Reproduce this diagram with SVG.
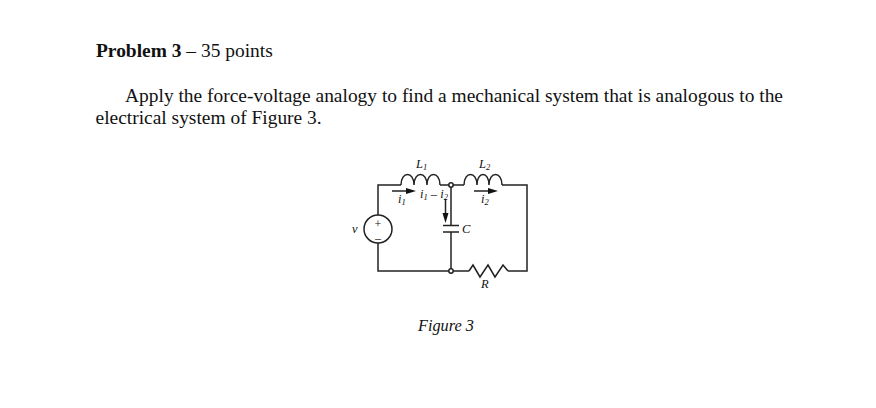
<svg xmlns="http://www.w3.org/2000/svg" width="876" height="408" viewBox="0 0 876 408">
<style>
text{font-family:"Liberation Serif","Times New Roman",serif;fill:#111}
.b{font-size:19.45px}
.l{font-size:12.500px;font-style:italic}
.s{font-size:8.500px}
.w{fill:none;stroke:#222;stroke-width:1.5}
.a{fill:#111}
</style>
<rect width="876" height="408" fill="#fff"/>
<text id="title" class="b" x="96" y="57"><tspan font-weight="bold">Problem 3</tspan> – 35 points</text>
<text id="line1" class="b" x="125" y="102">Apply the force-voltage analogy to find a mechanical system that is analogous to the</text>
<text id="line2" class="b" x="95.500" y="124">electrical system of Figure 3.</text>
<g id="connectors">
<path class="w" d="M378 215V185H401M440 185H449M453 185H464M502 185H527V271H508M469 271H453M449 271H378V243M451 187V225M451 232V269"/>
</g>
<g id="L1"><path class="w" d="M401 185c0-14 13-14 13 0c0-14 13-14 13 0c0-14 13-14 13 0"/><text class="l" x="416" y="168">L<tspan class="s" dy="2">1</tspan></text></g>
<g id="L2"><path class="w" d="M464 185c0-14 13-14 13 0c0-14 12-14 12 0c0-14 13-14 13 0"/><text class="l" x="479" y="168">L<tspan class="s" dy="2">2</tspan></text></g>
<g id="source"><circle class="w" cx="378" cy="229" r="14" fill="#fff"/><text x="378" y="228" font-size="12" text-anchor="middle">+</text><text x="378" y="241.500" font-size="12" text-anchor="middle">–</text><text class="l" x="352" y="233">v</text></g>
<g id="C"><path class="w" d="M443 225.500H459M443 232H459"/><text class="l" x="462" y="233">C</text></g>
<g id="R"><path class="w" d="M469 271l4-6 7 12 8-12 7 12 8-12 5 6"/><text class="l" x="481" y="288">R</text></g>
<g id="node1"><circle class="w" cx="451" cy="185" r="2.200" fill="#fff"/></g>
<g id="node2"><circle class="w" cx="451" cy="271" r="2.200" fill="#fff"/></g>
<g id="i1"><path class="w" d="M392 191H408"/><path class="a" d="M416 191l-10-3v6z"/><text class="l" x="398" y="203">i<tspan class="s" dy="2">1</tspan></text></g>
<g id="i2"><path class="w" d="M474 191H490"/><path class="a" d="M498 191l-10-3v6z"/><text class="l" x="481" y="203">i<tspan class="s" dy="2">2</tspan></text></g>
<g id="i12"><path class="w" d="M445.500 199V214"/><path class="a" d="M445.500 223l-3-10h6z"/><text class="l" x="420" y="198">i<tspan class="s" dy="2">1</tspan><tspan dy="-2"> – i</tspan><tspan class="s" dy="2">2</tspan></text></g>
<text id="caption" x="418" y="331" font-size="16.300" font-style="italic">Figure 3</text>
</svg>
